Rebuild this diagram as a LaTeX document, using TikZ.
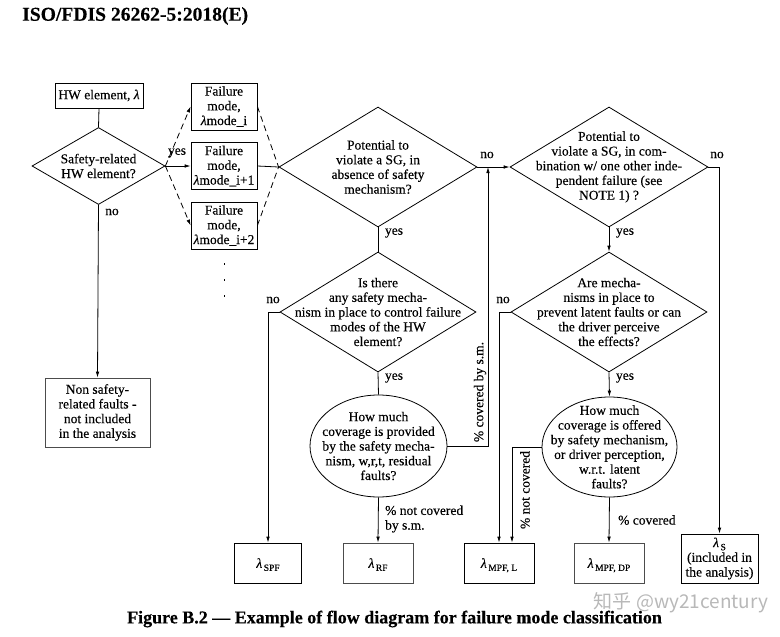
\documentclass[tikz,border=0pt]{standalone}
\usepackage{fontspec}
\setmainfont[FakeBold=0.3,BoldFont={Liberation Serif Bold}]{Liberation Serif}
\newfontfamily\cjk{Noto Sans CJK SC}
\usetikzlibrary{shapes.geometric,arrows.meta,calc}
\newcommand{\lam}{{\itshape λ}}
\newcommand{\lsub}[1]{\smash{\raisebox{-.5ex}{\fontsize{9.5}{10}\selectfont\,#1}}}
\begin{document}
\begin{tikzpicture}[x=1pt,y=-1pt,
  every node/.style={font=\fontsize{13.5}{14.7}\selectfont},
  box/.style={draw, line width=0.8pt, inner sep=0pt, align=center},
  gbox/.style={box, draw=black!70},
  dshape/.style={draw, shape=diamond, inner sep=0pt, line width=0.8pt},
  eshape/.style={draw, ellipse, inner sep=0pt, line width=0.8pt},
  txt/.style={align=center, inner sep=0pt},
  lbl/.style={inner sep=0pt},
  ln/.style={line width=0.8pt},
  dsh/.style={dash pattern=on 6pt off 4pt},
  arr/.style={line width=0.8pt, -{Latex[length=6pt,width=3.6pt]}},
]
\useasboundingbox (0,0) rectangle (780,637);

% title
\node[anchor=west, inner sep=0pt, font=\bfseries\fontsize{19.6}{22}\selectfont] (title) at (22,16) {ISO/FDIS 26262-5:2018(E)};

% left column
\node[box, minimum width=88, minimum height=25] (hw) at (99,95.5) {HW element, \lam};
\node[dshape, minimum width=133, minimum height=77] (d1) at (98.5,166) {};
\node[txt] (d1t) at (d1) {Safety-related\\HW element?};
\node[gbox, minimum width=105, minimum height=69] (ns) at (97.5,412.5) {Non safety-\\related faults -\\not included\\in the analysis};

% failure modes
\node[box, minimum width=66, minimum height=47] (fm1) at (224,106.5) {Failure\\mode,\\\lam mode\_i};
\node[box, minimum width=66, minimum height=47] (fm2) at (224,166) {Failure\\mode,\\\lam mode\_i+1};
\node[box, minimum width=66, minimum height=47] (fm3) at (224,225.5) {Failure\\mode,\\\lam mode\_i+2};
\coordinate (dt1) at (224,263);
\coordinate (dt2) at (224,300);

% middle column
\node[dshape, minimum width=198, minimum height=120] (d2) at (378,167) {};
\node[txt] (d2t) at (d2) {Potential to\\violate a SG, in\\absence of safety\\mechanism?};
\node[dshape, minimum width=196, minimum height=120] (d3) at (378,312) {};
\node[txt] (d3t) at (d3) {Is there\\any safety mecha-\\nism in place to control failure\\modes of the HW\\element?};
\node[eshape, minimum width=137, minimum height=102] (e1) at (378.5,446) {};
\node[txt] (e1t) at (e1) {How much\\coverage is provided\\by the safety mecha-\\nism, w,r,t, residual\\faults?};

% right column
\node[dshape, minimum width=198, minimum height=120] (d4) at (609,167) {};
\node[txt] (d4t) at (d4) {Potential to\\violate a SG, in com-\\bination w/ one other inde-\\pendent failure (see\\NOTE 1) ?};
\node[dshape, minimum width=196, minimum height=120] (d5) at (609,312) {};
\node[txt] (d5t) at (d5) {Are mecha-\\nisms in place to\\prevent latent faults or can\\the driver perceive\\the effects?};
\node[eshape, minimum width=135, minimum height=100] (e2) at (609.5,447) {};
\node[txt] (e2t) at (e2) {How much\\coverage is offered\\by safety mechanism,\\or driver perception,\\w.r.t. latent\\faults?};

% result boxes
\node[box, minimum width=67, minimum height=40] (spf) at (268,563) {\lam\lsub{SPF}};
\node[gbox, minimum width=70, minimum height=40] (rf) at (378,563) {\lam\lsub{RF}};
\node[box, minimum width=70, minimum height=40] (mpfl) at (499,563) {\lam\lsub{MPF, L}};
\node[gbox, minimum width=70, minimum height=40] (mpfdp) at (609,563) {\lam\lsub{MPF, DP}};
\node[box, minimum width=77, minimum height=49] (ls) at (719.5,558.5) {\lam\lsub{S}\\(included in\\the analysis)};

% labels
\node[lbl] (yes1) at (177,153) {yes};
\node[lbl] (no1) at (112,212) {no};
\node[lbl] (yes2) at (394,233) {yes};
\node[lbl] (no2) at (487,155) {no};
\node[lbl] (no3) at (273,300) {no};
\node[lbl] (yes3) at (394,378) {yes};
\node[lbl] (no4) at (717,155) {no};
\node[lbl] (yes4) at (625,233) {yes};
\node[lbl] (no5) at (503,300) {no};
\node[lbl] (yes5) at (625,378) {yes};
\node[lbl, rotate=90] (cov) at (480,392) {\% covered by s.m.};
\node[lbl, rotate=90] (ncov) at (525,490) {\% not covered};
\node[lbl, anchor=west, align=left] (ncsm) at (385,519) {\% not covered\\by s.m.};
\node[lbl, anchor=west] (covd) at (618,520) {\% covered};

\coordinate (j1) at (488,167);

% connectors
\draw[ln] (hw.south) -- (d1.north);
\draw[arr] (d1.south) -- (ns.north);
\draw[arr, dsh] (d1.east) -- (fm1.west);
\draw[arr] (d1.east) -- (fm2.west);
\draw[arr, dsh] (d1.east) -- (fm3.west);
\draw[ln, dsh] (fm1.east) -- (d2.west);
\draw[ln] (fm2.east) -- (d2.west);
\draw[ln, dsh] (fm3.east) -- (d2.west);
\draw[ln, dash pattern=on 2pt off 14pt] (dt1) -- (dt2);
\draw[ln] (d2.south) -- (d3.north);
\draw[arr] (d2.east) -- (d4.west);
\draw[arr] (d3.west) -| (spf.north);
\draw[ln] (d3.south) -- (e1.north);
\draw[arr] (e1.east) -| (j1);
\draw[arr] (e1.south) -- (rf.north);
\draw[arr] (d4.east) -| (ls.north);
\draw[arr] (d4.south) -- (d5.north);
\draw[arr] (d5.west) -| (mpfl.north);
\draw[arr] (e2.west) -| ([xshift=13pt]mpfl.north);
\draw[arr] (d5.south) -- (e2.north);
\draw[arr] (e2.south) -- (mpfdp.north);

% caption and watermark
\node[font=\bfseries\fontsize{18}{20}\selectfont, inner sep=0pt] (cap) at (394.5,619) {Figure B.2 --- Example of flow diagram for failure mode classification};
\node[text=black!28, font=\cjk\fontsize{19}{22}\selectfont, inner sep=0pt] (wm) at (681,603) {知乎 @wy21century};
\end{tikzpicture}
\end{document}
